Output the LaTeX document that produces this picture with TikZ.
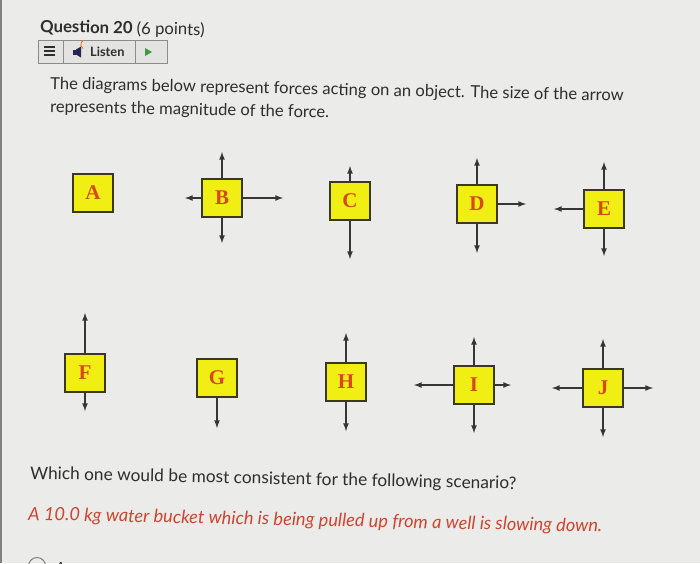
\documentclass[tikz,border=0pt]{standalone}
\usepackage{fontspec}
\setmainfont{Lato}
\newfontfamily\letterfont{Liberation Serif}
\usetikzlibrary{arrows,positioning}

\definecolor{bg}{HTML}{EBEBE9}
\definecolor{ink}{HTML}{2E2E2E}
\definecolor{redink}{HTML}{CC4630}
\definecolor{boxfill}{HTML}{F0EE12}
\definecolor{boxline}{HTML}{3A3822}
\definecolor{letter}{HTML}{D9481C}
\definecolor{arrowgray}{HTML}{363636}
\definecolor{barfill}{HTML}{E3E3E1}
\definecolor{barline}{HTML}{8C8C8A}
\definecolor{playgreen}{HTML}{3E9A3A}

\begin{document}
\begin{tikzpicture}[x=1pt, y=-1pt,
    box/.style={draw=boxline, fill=boxfill, line width=2pt, minimum width=40pt, minimum height=38pt, inner sep=0pt, text=letter, font=\letterfont\fontsize{21}{21}\selectfont\bfseries},
    force/.style={->, >=latex, draw=arrowgray, line width=1.6pt},
    txt/.style={anchor=base west, inner sep=0pt, rotate=-1.2, text=ink}]
    \useasboundingbox[fill=bg] (0,0) rectangle (700,563);
    \draw[gray, line width=2.5pt] (1.2,0) -- (1.2,563);

    % heading and listen bar
    \node[txt, font=\fontsize{16.7}{16.7}\selectfont] (title) at (40,32) {\textbf{Question 20} (6 points)};
    \draw[barline, fill=barfill, line width=0.8pt] (38,40) rectangle (167,63);
    \draw[barline, line width=0.8pt] (63,40) -- (63,63);
    \draw[barline, line width=0.8pt] (135,40) -- (135,63);
    \foreach \y in {47,51,55}
        \draw[ink, line width=1.6pt] (44,\y) -- (55,\y);
    \fill[ink!80!blue] (73,49.5) rectangle (76,54.5);
    \fill[ink!80!blue] (76,49.5) -- (81,46.5) -- (81,57.5) -- (76,54.5) -- cycle;
    \draw[orange!80!red, line width=0.8pt] (83,48.5) arc (-60:60:-4.5);
    \node[anchor=base west, inner sep=0pt, text=ink, font=\fontsize{12.8}{12.8}\selectfont\bfseries] (listen) at (90,56) {Listen};
    \fill[playgreen] (145,48) -- (152,52) -- (145,56) -- cycle;

    % question text
    \node[txt, font=\fontsize{16.6}{16.6}\selectfont] (line1) at (50,89) {The diagrams below represent forces acting on an object. The size of the arrow};
    \node[txt, font=\fontsize{16.6}{16.6}\selectfont] (line2) at (50,112) {represents the magnitude of the force.};

    % force diagrams, first row
    \node[box] (A) at (93,193) {A};
    \node[box] (B) at (222,198) {B};
    \node[box] (C) at (350,201) {C};
    \node[box] (D) at (477,204) {D};
    \node[box] (E) at (604,209) {E};

    % force diagrams, second row
    \node[box] (F) at (85,373) {F};
    \node[box] (G) at (217,378) {G};
    \node[box] (H) at (346,382) {H};
    \node[box] (I) at (474,385) {I};
    \node[box] (J) at (603,388) {J};

    \coordinate (Bn) at (222,152);
    \coordinate (Bs) at (222,243);
    \coordinate (Bw) at (185,198);
    \coordinate (Be) at (283,198);
    \coordinate (Cn) at (350,166);
    \coordinate (Cs) at (350,259);
    \coordinate (Dn) at (477,158);
    \coordinate (Ds) at (477,253);
    \coordinate (De) at (526,204);
    \coordinate (En) at (604,162);
    \coordinate (Es) at (604,256);
    \coordinate (Ew) at (554,209);
    \coordinate (Fn) at (85,313);
    \coordinate (Fs) at (85,411);
    \coordinate (Gs) at (217,428);
    \coordinate (Hn) at (346,333);
    \coordinate (Hs) at (346,431);
    \coordinate (In) at (474,337);
    \coordinate (Is) at (474,433);
    \coordinate (Iw) at (414,385);
    \coordinate (Ie) at (511,385);
    \coordinate (Jn) at (603,339);
    \coordinate (Js) at (603,437);
    \coordinate (Jw) at (552,388);
    \coordinate (Je) at (653,388);

    \draw[force] (B.north) -- (Bn);
    \draw[force] (B.south) -- (Bs);
    \draw[force] (B.west) -- (Bw);
    \draw[force] (B.east) -- (Be);
    \draw[force] (C.north) -- (Cn);
    \draw[force] (C.south) -- (Cs);
    \draw[force] (D.north) -- (Dn);
    \draw[force] (D.south) -- (Ds);
    \draw[force] (D.east) -- (De);
    \draw[force] (E.north) -- (En);
    \draw[force] (E.south) -- (Es);
    \draw[force] (E.west) -- (Ew);
    \draw[force] (F.north) -- (Fn);
    \draw[force] (F.south) -- (Fs);
    \draw[force] (G.south) -- (Gs);
    \draw[force] (H.north) -- (Hn);
    \draw[force] (H.south) -- (Hs);
    \draw[force] (I.north) -- (In);
    \draw[force] (I.south) -- (Is);
    \draw[force] (I.west) -- (Iw);
    \draw[force] (I.east) -- (Ie);
    \draw[force] (J.north) -- (Jn);
    \draw[force] (J.south) -- (Js);
    \draw[force] (J.west) -- (Jw);
    \draw[force] (J.east) -- (Je);

    % scenario
    \node[txt, font=\fontsize{17.3}{17.3}\selectfont] (ask) at (30,479) {Which one would be most consistent for the following scenario?};
    \node[txt, text=redink, font=\fontsize{18.2}{18.2}\selectfont\itshape] (case) at (28,520) {A 10.0 kg water bucket which is being pulled up from a well is slowing down.};

    % first answer option, cut off by the edge
    \draw[gray, line width=1pt] (37,566) circle (8.5);
    \node[anchor=base west, inner sep=0pt, text=ink, font=\fontsize{14}{14}\selectfont] (optA) at (56,572) {A};
\end{tikzpicture}
\end{document}
